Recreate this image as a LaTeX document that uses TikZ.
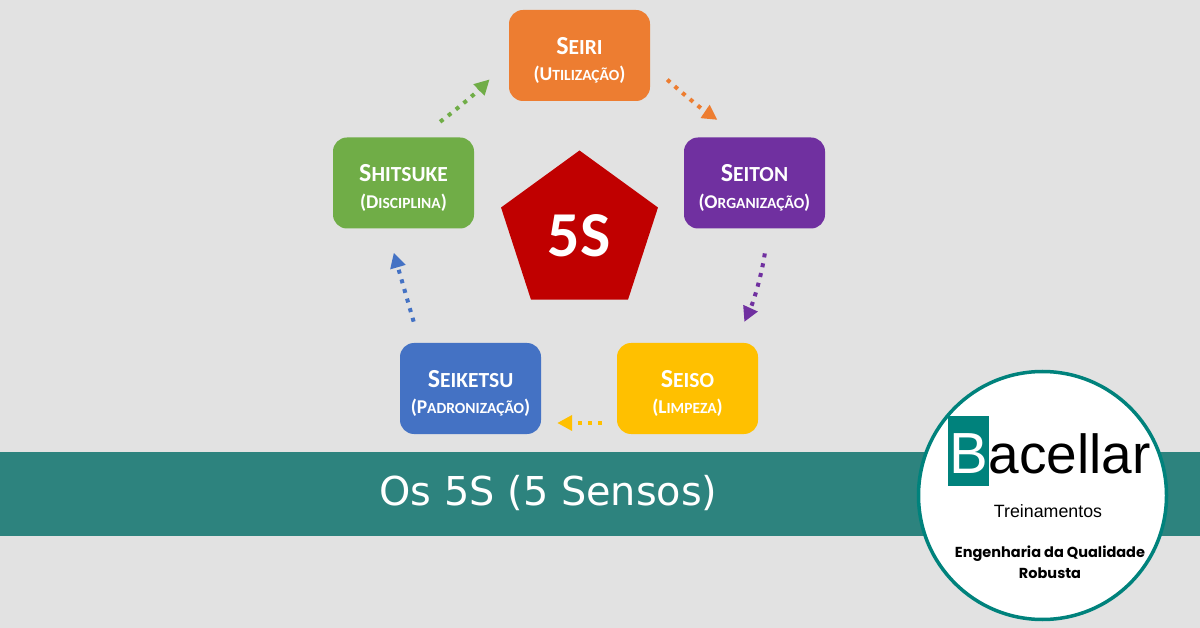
\documentclass[tikz,border=0pt]{standalone}
\usepackage{fontspec}
\setmainfont{Liberation Sans}
\newfontfamily\boxfont{Carlito}
\newfontfamily\titlefont{DejaVu Sans}
\newfontfamily\sloganfont{Poppins}
\usetikzlibrary{arrows.meta,positioning,shapes.geometric}

\definecolor{paper}{HTML}{E2E2E2}
\definecolor{band}{HTML}{2D837E}
\definecolor{logoteal}{HTML}{00827C}
\definecolor{seiricol}{HTML}{ED7D31}
\definecolor{seitoncol}{HTML}{7030A0}
\definecolor{seisocol}{HTML}{FFC000}
\definecolor{seiketsucol}{HTML}{4472C4}
\definecolor{shitsukecol}{HTML}{70AD47}
\definecolor{pentacol}{HTML}{C00000}

\newcommand{\senso}[4]{%
	\rule{0pt}{27pt}{\fontsize{26}{26}\selectfont #1\fontsize{21.5}{21.5}\selectfont #2}\\[11pt]
	{\fontsize{19.5}{19.5}\selectfont (#3\fontsize{15.5}{15.5}\selectfont #4\fontsize{19.5}{19.5}\selectfont )}}

\tikzstyle{sensobox}=[rectangle,rounded corners=14pt,minimum width=141pt,minimum height=91pt,inner sep=0pt,text=white,align=center,font=\boxfont\bfseries]
\tikzstyle{flow}=[line width=4pt,dash pattern=on 4pt off 6pt,-{Triangle[length=15pt,width=15pt]}]
\tikzstyle{logotext}=[inner sep=0pt,text=black]

\begin{document}
\begin{tikzpicture}[x=1pt,y=-1pt]
			\useasboundingbox (0,0) rectangle (1200,628);
			\fill[paper] (0,0) rectangle (1200,628);
			%The band with the title
			\node[fill=band,minimum width=1200pt,minimum height=84pt,inner sep=0pt] (band) at (600,494) {};
			\node[text=white,inner sep=0pt,font=\titlefont\fontsize{39.8}{39.8}\selectfont] (title) at (548.5,493) {Os 5S (5 Sensos)};
			%The five boxes
			\foreach \pos/\name/\col/\first/\rest/\subfirst/\subrest in {
					{(579.5,55.5)/seiri/seiricol/S/EIRI/U/TILIZAÇÃO},
					{(754.5,183)/seiton/seitoncol/S/EITON/O/RGANIZAÇÃO},
					{(687.5,388.5)/seiso/seisocol/S/EISO/L/IMPEZA},
					{(470.5,388.5)/seiketsu/seiketsucol/S/EIKETSU/P/ADRONIZAÇÃO},
					{(403.5,183)/shitsuke/shitsukecol/S/HITSUKE/D/ISCIPLINA}}
			\node[sensobox,fill=\col] (\name) at \pos {\senso{\first}{\rest}{\subfirst}{\subrest}};
			%The pentagon in the middle
			\node[regular polygon,regular polygon sides=5,minimum size=165pt,inner sep=0pt,outer sep=0pt,fill=pentacol] (penta) at (579.5,233) {};
			\node[inner sep=0pt,text=white,font=\boxfont\bfseries\fontsize{64}{64}\selectfont] (pentatext) at (579,236) {5S};
			%Arrows between the boxes
			\foreach \from/\outang/\to/\inang/\col/\bnd/\cutA/\cutB in {
					seiri/-7/seiton/104/seiricol/-4/23pt/31pt,
					seiton/-73/seiso/44/seitoncol/8/25pt/23pt,
					seiso/206.2/seiketsu/-26.2/seisocol/0/15pt/16pt,
					seiketsu/138.5/shitsuke/-110/seiketsucol/0/22pt/25pt,
					shitsuke/71.4/seiri/184.8/shitsukecol/-4/26pt/27pt}
			\draw[flow,draw=\col,shorten <=\cutA,shorten >=\cutB] (\from.\outang) to[bend left=\bnd] (\to.\inang);
			%The logo
			\node[circle,draw=logoteal,line width=3.5pt,fill=white,minimum size=248pt,inner sep=0pt] (logo) at (1042.5,495.5) {};
			\node[fill=logoteal,minimum width=41pt,minimum height=70pt,inner sep=0pt] (logob) at (968.5,451) {};
			\node[inner sep=0pt,text=white,font=\fontsize{58}{58}\selectfont] (logoinit) at (969,454) {B};
			\node[logotext,base right=0pt of logoinit,font=\fontsize{55}{55}\selectfont] (logoname) {acellar};
			\node[logotext,font=\fontsize{17.8}{17.8}\selectfont] (logosub) at (1048,511) {Treinamentos};
			\node[logotext,font=\sloganfont\bfseries\fontsize{14.5}{14.5}\selectfont] (slogan) at (1050,554) {Engenharia da Qualidade};
			\node[logotext,font=\sloganfont\bfseries\fontsize{14.5}{14.5}\selectfont] (robusta) at (1050,573) {Robusta};
\end{tikzpicture}
\end{document}
